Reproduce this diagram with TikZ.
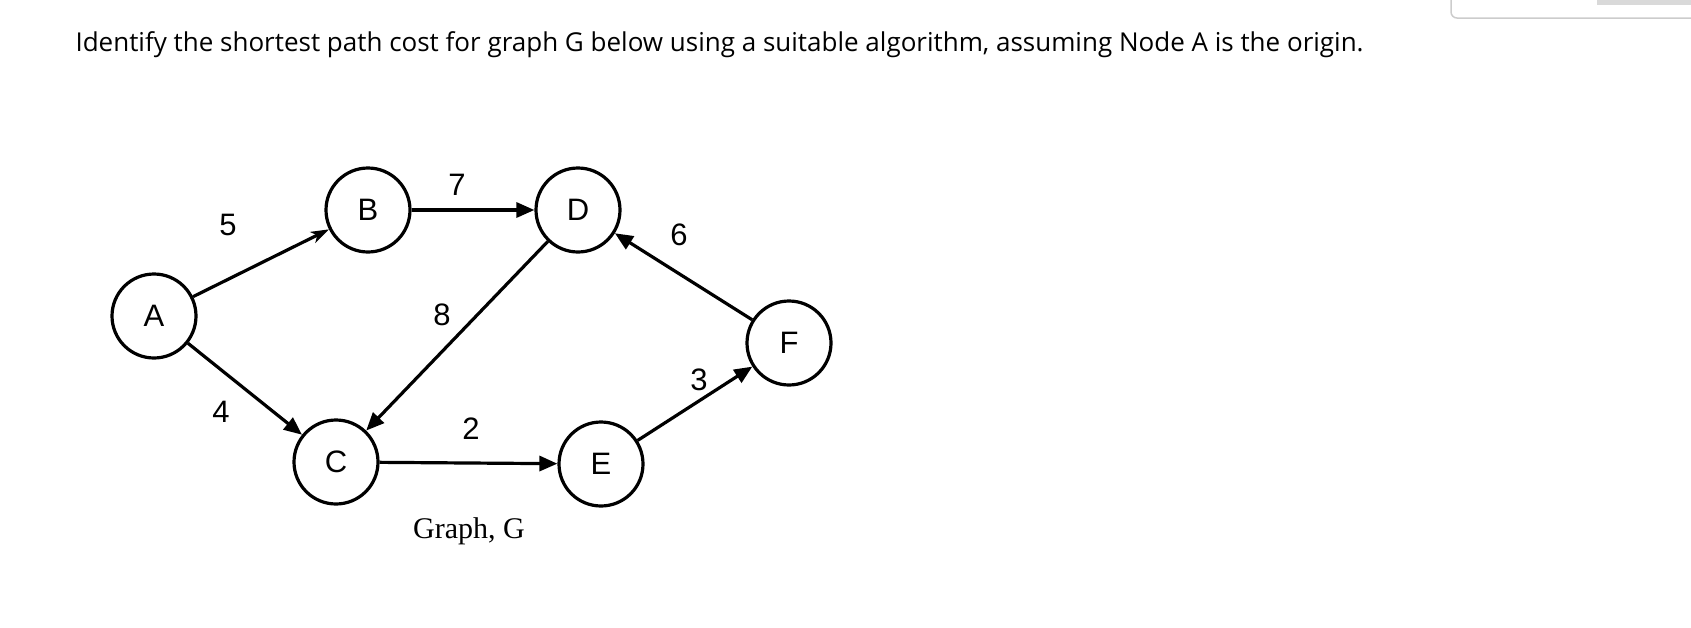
\documentclass[tikz,border=0pt]{standalone}
\usepackage{fontspec}
\setmainfont{Open Sans}
\newfontfamily\arialfam{Liberation Sans}
\newfontfamily\timesfam{Liberation Serif}
\usetikzlibrary{arrows.meta}
\begin{document}
\begin{tikzpicture}[x=1pt,y=-1pt,
  vtx/.style={circle,draw,line width=3.2pt,minimum size=84pt,inner sep=0pt,font=\arialfam\fontsize{31}{33}\selectfont},
  edge/.style={line width=3.2pt,-{Triangle[length=18pt,width=15pt]}},
  wt/.style={font=\arialfam\fontsize{31}{33}\selectfont}]
\useasboundingbox (0,0) rectangle (1691,627);
\draw[gray!40,line width=1.5pt,rounded corners=6pt] (1451,-10) rectangle (1700,18);
\fill[gray!30] (1597,0) rectangle (1691,5);
\node[anchor=west,font=\fontsize{26}{30}\selectfont] (t) at (72,45) {Identify the shortest path cost for graph G below using a suitable algorithm, assuming Node A is the origin.};
\node[vtx] (A) at (154,316) {A};
\node[vtx] (B) at (368,210) {B};
\node[vtx] (D) at (578,210) {D};
\node[vtx] (F) at (789,343) {F};
\node[vtx] (C) at (336,462) {C};
\node[vtx] (E) at (601,464) {E};
\draw[line width=3.2pt,-{Stealth[length=18pt,width=12pt,inset=5pt]}] (A) -- (B);
\draw[edge] (B) -- (D);
\draw[edge] (F) -- (D);
\draw[edge] (D) -- (C);
\draw[edge] (A) -- (C);
\draw[edge] (C) -- (E);
\draw[edge] (E) -- (F);
\node[wt] (w7) at (457,185) {7};
\node[wt] (w5) at (228,225) {5};
\node[wt] (w6) at (679,235) {6};
\node[wt] (w8) at (442,315) {8};
\node[wt] (w4) at (221,412) {4};
\node[wt] (w2) at (471,429) {2};
\node[wt] (w3) at (699,380) {3};
\node[font=\timesfam\fontsize{30}{32}\selectfont] (g) at (469,531) {Graph, G};
\end{tikzpicture}
\end{document}
